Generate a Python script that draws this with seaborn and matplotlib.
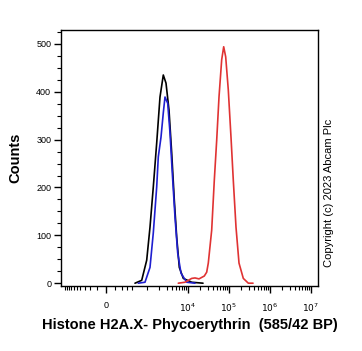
import numpy as np
import pandas as pd
import seaborn as sns
import matplotlib.pyplot as plt

# fluorescence (data units) and counts
x_black = [490, 729, 973, 1175, 1417, 1718, 2070, 2494, 2904, 3438, 4002, 4630, 5300, 6136, 7678, 12310, 23220]
y_black = [0, 6, 48, 117, 201, 293, 389, 435, 418, 362, 272, 174, 96, 33, 10, 2, 0]

x_blue = [597, 882, 1175, 1417, 1718, 1881, 2190, 2494, 2744, 3194, 3636, 4138, 4816, 5606, 6748, 9294, 14810]
y_blue = [0, 2, 33, 105, 201, 264, 305, 356, 389, 376, 314, 230, 138, 63, 21, 2, 0]

x_red = [5797, 8448, 12310, 14810, 18550, 24970, 28570, 31260, 37840, 43800, 50130, 57030,
         66350, 74220, 83020, 96100, 111900, 127300, 148200, 175400, 223300, 296000, 385200]
y_red = [0, 2, 10, 11, 9, 15, 23, 42, 111, 215, 299, 389,
         467, 494, 473, 404, 305, 215, 117, 42, 10, 0, 0]

xtick_vals = [0, 1e4, 1e5, 1e6, 1e7]
xtick_labels = ['0', '$10^4$', '$10^5$', '$10^6$', '$10^7$']

df = pd.concat([
    pd.DataFrame({'x': x_black, 'count': y_black, 'tube': 'isotype'}),
    pd.DataFrame({'x': x_blue, 'count': y_blue, 'tube': 'unstained'}),
    pd.DataFrame({'x': x_red, 'count': y_red, 'tube': 'stained'}),
])

sns.set_style('ticks')
plt.rcParams['font.family'] = ['Liberation Sans', 'DejaVu Sans']
plt.rcParams['text.color'] = 'black'
plt.rcParams['xtick.color'] = 'black'
plt.rcParams['ytick.color'] = 'black'
plt.rcParams['axes.labelcolor'] = 'black'

W = 200.0


def fwd(x):
    return np.arcsinh(np.asarray(x) / W) / np.log(10)


def inv(y):
    return W * np.sinh(np.asarray(y) * np.log(10))


fig = plt.figure(figsize=(3.62, 3.51), dpi=100)
ax = fig.add_axes([0.1685, 0.185, 0.7099, 0.7295])

sns.lineplot(data=df, x='x', y='count', hue='tube', sort=False, estimator=None,
             palette={'isotype': 'black', 'unstained': '#1f1fd0', 'stained': '#e03333'},
             linewidth=1.2, legend=False, ax=ax)

ax.set_xscale('function', functions=(fwd, inv))
ax.set_xlim(-1244, 1.48e7)
ax.set_ylim(-6, 529)

ax.set_xticks(xtick_vals)
ax.set_xticklabels(xtick_labels)
minor = list(range(-1000, 0, 100)) + list(range(100, 500, 100)) + list(range(1000, 10000, 1000))
for d in [1e4, 1e5, 1e6]:
    minor += [k * d for k in range(2, 10)]
ax.set_xticks(minor, minor=True)
ax.set_yticks([0, 100, 200, 300, 400, 500])
ax.set_yticks(np.arange(25, 530, 25), minor=True)

ax.tick_params(axis='both', which='major', length=5, width=1, labelsize=6.5, pad=6)
ax.tick_params(axis='y', which='major', pad=2)
ax.tick_params(axis='both', which='minor', length=3, width=0.8)

for s in ax.spines.values():
    s.set_color('black')
    s.set_linewidth(1)

ax.set_xlabel('Histone H2A.X- Phycoerythrin  (585/42 BP)', fontsize=10.5, fontweight='bold', labelpad=3)
ax.set_ylabel('Counts', fontsize=10.5, fontweight='bold', labelpad=10)

fig.text(0.909, 0.451, 'Copyright (c) 2023 Abcam Plc', rotation=90, fontsize=8,
         ha='center', va='center')

fig.savefig('out.png', dpi=100)
